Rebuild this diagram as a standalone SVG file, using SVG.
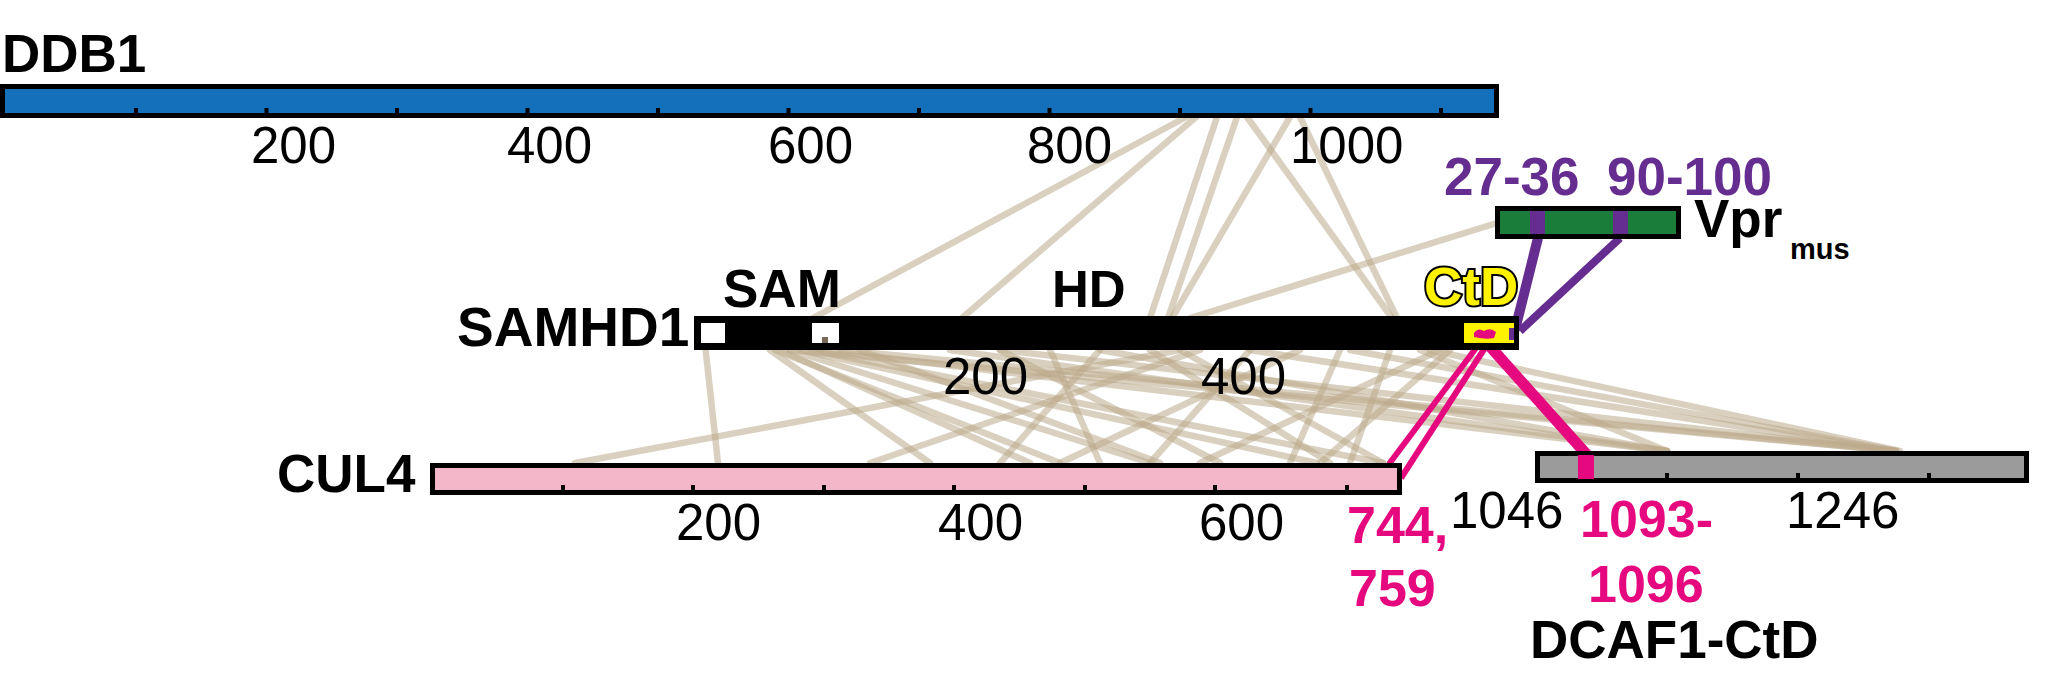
<svg xmlns="http://www.w3.org/2000/svg" width="2048" height="688" viewBox="0 0 2048 688">
<style>
.lbl{font-family:"Liberation Sans",Arial,sans-serif;font-weight:bold;font-size:53px;fill:#000}
.num{font-family:"Liberation Sans",Arial,sans-serif;font-size:51px;fill:#000}
.pur{font-family:"Liberation Sans",Arial,sans-serif;font-weight:bold;font-size:53px;fill:#662D91}
.mag{font-family:"Liberation Sans",Arial,sans-serif;font-weight:bold;font-size:52px;fill:#E5087E}
.bar{stroke:#000;stroke-width:5}
.xl line{stroke:#BBA98B;stroke-opacity:0.55;stroke-width:6.5;stroke-linecap:round}
.tick{fill:#000}
</style>
<rect width="2048" height="688" fill="#fff"/>

<g id="connectors">
 <g class="xl">
  <line x1="1186" y1="117" x2="813" y2="318"/>
  <line x1="1196" y1="117" x2="962" y2="318"/>
  <line x1="1217" y1="117" x2="1150" y2="318"/>
  <line x1="1237" y1="117" x2="1168" y2="318"/>
  <line x1="1247" y1="117" x2="1392" y2="318"/>
  <line x1="1290" y1="117" x2="1172" y2="318"/>
  <line x1="1300" y1="117" x2="1397" y2="318"/>
  <line x1="1497" y1="223" x2="1190" y2="318"/>
  <line x1="704" y1="335" x2="718" y2="463"/>
  <line x1="770" y1="350" x2="930" y2="463"/>
  <line x1="775" y1="350" x2="1060" y2="463"/>
  <line x1="780" y1="350" x2="1030" y2="463"/>
  <line x1="790" y1="350" x2="1150" y2="463"/>
  <line x1="800" y1="350" x2="1317" y2="463"/>
  <line x1="810" y1="350" x2="1383" y2="463"/>
  <line x1="820" y1="350" x2="1667" y2="451"/>
  <line x1="840" y1="350" x2="1896" y2="451"/>
  <line x1="790" y1="350" x2="1896" y2="451"/>
  <line x1="860" y1="350" x2="1160" y2="463"/>
  <line x1="575" y1="463" x2="1180" y2="350"/>
  <line x1="950" y1="350" x2="1667" y2="451"/>
  <line x1="1000" y1="350" x2="1896" y2="451"/>
  <line x1="1100" y1="350" x2="1667" y2="451"/>
  <line x1="1250" y1="350" x2="1896" y2="451"/>
  <line x1="1050" y1="350" x2="1100" y2="463"/>
  <line x1="1100" y1="350" x2="1000" y2="463"/>
  <line x1="1000" y1="350" x2="1220" y2="463"/>
  <line x1="1150" y1="350" x2="1330" y2="463"/>
  <line x1="1200" y1="350" x2="870" y2="463"/>
  <line x1="1250" y1="350" x2="1150" y2="463"/>
  <line x1="1300" y1="350" x2="1060" y2="463"/>
  <line x1="1340" y1="350" x2="1290" y2="463"/>
  <line x1="1350" y1="350" x2="1896" y2="451"/>
  <line x1="1420" y1="350" x2="1667" y2="451"/>
  <line x1="1430" y1="350" x2="1900" y2="451"/>
  <line x1="1440" y1="350" x2="1200" y2="463"/>
  <line x1="1450" y1="350" x2="1320" y2="463"/>
  <line x1="1390" y1="350" x2="1350" y2="463"/>
  <line x1="1180" y1="350" x2="1383" y2="463"/>
 </g>
 <g id="magenta-links" stroke="#E5087E" stroke-linecap="butt">
  <line x1="1482" y1="340" x2="1389" y2="464" stroke-width="6"/>
  <line x1="1490" y1="340" x2="1401" y2="478" stroke-width="6"/>
  <line x1="1487" y1="343" x2="1588" y2="456" stroke-width="11"/>
 </g>
 <g id="purple-links" stroke="#662D91" stroke-linecap="butt">
  <line x1="1538" y1="238" x2="1515" y2="330" stroke-width="10"/>
  <line x1="1620" y1="238" x2="1520" y2="331" stroke-width="8"/>
 </g>
</g>

<g id="DDB1">
 <rect class="bar" x="2.5" y="86.5" width="1494" height="29" fill="#1570BC"/>
 <g class="tick">
  <rect x="134" y="108" width="4" height="6"/><rect x="264.5" y="108" width="4" height="6"/>
  <rect x="395" y="108" width="4" height="6"/><rect x="525.5" y="108" width="4" height="6"/>
  <rect x="656" y="108" width="4" height="6"/><rect x="786.5" y="108" width="4" height="6"/>
  <rect x="917" y="108" width="4" height="6"/><rect x="1047.5" y="108" width="4" height="6"/>
  <rect x="1178" y="108" width="4" height="6"/><rect x="1308.5" y="108" width="4" height="6"/>
  <rect x="1439" y="108" width="4" height="6"/>
 </g>
 <text class="lbl" x="2" y="72">DDB1</text>
 <text class="num" x="251" y="163">200</text>
 <text class="num" x="507" y="163">400</text>
 <text class="num" x="768" y="163">600</text>
 <text class="num" x="1027" y="163">800</text>
 <text class="num" x="1290" y="163">1000</text>
</g>

<g id="Vpr">
 <rect class="bar" x="1497.5" y="208.5" width="181" height="28" fill="#1B7D3A"/>
 <rect x="1530" y="211" width="15" height="23" fill="#662D91"/>
 <rect x="1613" y="211" width="15" height="23" fill="#662D91"/>
 <text class="pur" x="1444" y="195">27-36</text>
 <text class="pur" x="1607" y="195">90-100</text>
 <text class="lbl" x="1694" y="237">Vpr</text>
 <text class="lbl" x="1790" y="259" style="font-size:29px">mus</text>
</g>

<g id="SAMHD1">
 <rect class="bar" x="696.5" y="318.5" width="820" height="29" fill="#000"/>
 <rect x="701" y="323" width="24" height="20" fill="#fff"/>
 <rect x="812" y="323" width="27" height="20" fill="#fff"/>
 <rect x="822" y="337" width="6" height="6" fill="#7a6a55"/>
 <rect x="1464" y="323" width="50" height="20" fill="#FFF200"/>
 <path d="M1474,333 q4,-6 10,-2 q6,-4 12,1 l-2,6 q-8,2 -20,-1 z" fill="#E5087E"/>
 <rect x="1509" y="328" width="5" height="12" fill="#662D91"/>
 <text class="lbl" x="457" y="346" style="font-size:55px">SAMHD1</text>
 <text class="lbl" x="723" y="307">SAM</text>
 <text class="lbl" x="1052" y="307" style="font-size:51px">HD</text>
 <text class="lbl" x="1424" y="305" stroke="#000" stroke-width="4" paint-order="stroke" style="fill:#FFF200">CtD</text>
 <text class="num" x="943" y="394">200</text>
 <text class="num" x="1201" y="394">400</text>
</g>

<g id="CUL4">
 <rect class="bar" x="432.5" y="465.5" width="967" height="27" fill="#F4B6C9"/>
 <g class="tick">
  <rect x="561" y="485" width="4" height="6"/><rect x="691" y="485" width="4" height="6"/>
  <rect x="822" y="485" width="4" height="6"/><rect x="952" y="485" width="4" height="6"/>
  <rect x="1083" y="485" width="4" height="6"/><rect x="1213" y="485" width="4" height="6"/>
  <rect x="1345" y="485" width="4" height="6"/>
 </g>
 <text class="lbl" x="277" y="492">CUL4</text>
 <text class="num" x="676" y="540">200</text>
 <text class="num" x="938" y="540">400</text>
 <text class="num" x="1199" y="540">600</text>
 <text class="mag" x="1347" y="543">744,</text>
 <text class="mag" x="1349" y="606">759</text>
</g>

<g id="DCAF1-CtD">
 <rect class="bar" x="1537.5" y="453.5" width="489" height="27" fill="#9B9B9B"/>
 <rect x="1578" y="455" width="16" height="24" fill="#E5087E"/>
 <g class="tick">
  <rect x="1665" y="473" width="4" height="6"/><rect x="1796" y="473" width="4" height="6"/>
  <rect x="1927" y="473" width="4" height="6"/>
 </g>
 <text class="num" x="1450" y="528">1046</text>
 <text class="num" x="1786" y="528">1246</text>
 <text class="mag" x="1580" y="537">1093-</text>
 <text class="mag" x="1588" y="602">1096</text>
 <text class="lbl" x="1530" y="658">DCAF1-CtD</text>
</g>
</svg>
